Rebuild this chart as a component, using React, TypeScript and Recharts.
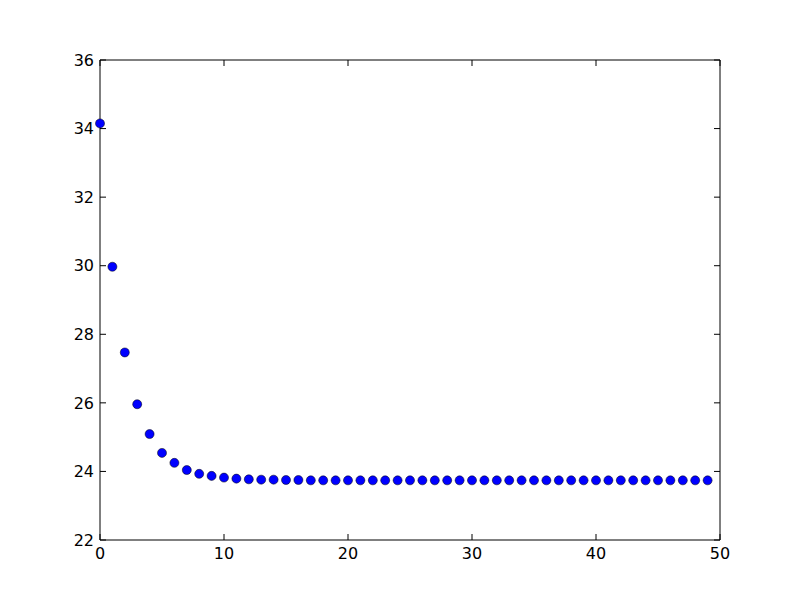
import React from 'react'
import { ScatterChart, Scatter, XAxis, YAxis, ReferenceLine } from 'recharts'

// iteration index and the value at each step
const steps = Array.from({ length: 50 }, (_, i) => i)
const values = [
    34.15, 29.97, 27.47, 25.96, 25.09, 24.54, 24.25, 24.04, 23.93, 23.87,
    23.82, 23.79, 23.77, 23.76, 23.76, 23.75, 23.75, 23.74, 23.74, 23.74,
    23.74, 23.74, 23.74, 23.74, 23.74, 23.74, 23.74, 23.74, 23.74, 23.74,
    23.74, 23.74, 23.74, 23.74, 23.74, 23.74, 23.74, 23.74, 23.74, 23.74,
    23.74, 23.74, 23.74, 23.74, 23.74, 23.74, 23.74, 23.74, 23.74, 23.74,
]
const xTicks = [0, 10, 20, 30, 40, 50]
const yTicks = [22, 24, 26, 28, 30, 32, 34, 36]

const points = steps.map((s, i) => ({ x: s, y: values[i] }))

const PLOT_W = 620
const PLOT_H = 480
const TICK_LEN = 6
const FONT = '"DejaVu Sans", sans-serif'

// matplotlib-style ticks: pointing inwards, on both sides of the frame
const YTick = (props: any) => {
    const { x, y, payload } = props
    const edge = x + 6
    return (
        <g>
            <line x1={edge} x2={edge + TICK_LEN} y1={y} y2={y} stroke="#000" />
            <line x1={edge + PLOT_W - TICK_LEN} x2={edge + PLOT_W} y1={y} y2={y} stroke="#000" />
            <text x={x} y={y} dy="0.36em" textAnchor="end" fill="#000" fontSize={16} fontFamily={FONT}>
                {payload.value}
            </text>
        </g>
    )
}

const XTick = (props: any) => {
    const { x, y, payload } = props
    const edge = y - 8
    return (
        <g>
            <line x1={x} x2={x} y1={edge} y2={edge - TICK_LEN} stroke="#000" />
            <line x1={x} x2={x} y1={edge - PLOT_H} y2={edge - PLOT_H + TICK_LEN} stroke="#000" />
            <text x={x} y={y} dy="0.71em" textAnchor="middle" fill="#000" fontSize={16} fontFamily={FONT}>
                {payload.value}
            </text>
        </g>
    )
}

const App: React.FC = () => {
    return (
        <div style={{ position: 'absolute', left: 0, top: 0, width: 800, height: 600, background: '#fff' }}>
            <ScatterChart width={800} height={600} margin={{ top: 60, right: 80, bottom: 0, left: 0 }}>
                <XAxis
                    type="number"
                    dataKey="x"
                    domain={[0, 50]}
                    ticks={xTicks}
                    height={60}
                    tickSize={0}
                    tickMargin={8}
                    tickLine={false}
                    axisLine={{ stroke: '#000' }}
                    tick={<XTick />}
                />
                <YAxis
                    type="number"
                    dataKey="y"
                    domain={[22, 36]}
                    ticks={yTicks}
                    width={100}
                    tickSize={0}
                    tickMargin={6}
                    tickLine={false}
                    axisLine={{ stroke: '#000' }}
                    tick={<YTick />}
                />
                <ReferenceLine y={36} stroke="#000" />
                <ReferenceLine x={50} stroke="#000" />
                <Scatter
                    data={points}
                    fill="#0000ff"
                    stroke="#000"
                    strokeWidth={0.5}
                    isAnimationActive={false}
                />
            </ScatterChart>
        </div>
    )
}

export default App
